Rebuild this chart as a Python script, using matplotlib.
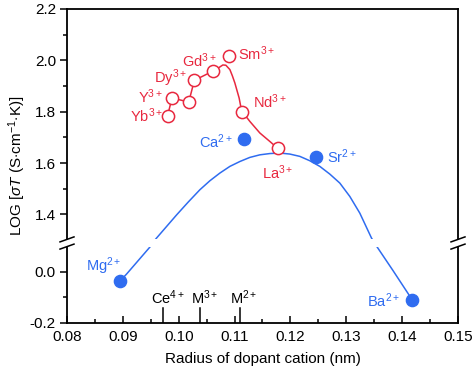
import numpy as np
import matplotlib
matplotlib.use("Agg")
from matplotlib import pyplot as plt
from matplotlib.patches import Rectangle
from matplotlib.lines import Line2D

plt.rcParams['font.family'] = ['Liberation Sans', 'DejaVu Sans']
plt.rcParams['mathtext.fontset'] = 'custom'
plt.rcParams['mathtext.rm'] = 'Liberation Sans'
plt.rcParams['mathtext.it'] = 'Liberation Sans:italic'
plt.rcParams['mathtext.bf'] = 'Liberation Sans:bold'

RED = '#e8283f'
BLUE = '#2f6cf0'

# trivalent dopants (open circles)
red_names = ['Yb', 'Y', '', 'Dy', 'Gd', 'Sm', 'Nd', 'La']
red_x = [0.0980, 0.0988, 0.1018, 0.1028, 0.1062, 0.1090, 0.1114, 0.1178]
red_y = [1.784, 1.853, 1.838, 1.922, 1.959, 2.018, 1.799, 1.658]

# red guide line
red_line_x = [0.0980, 0.0988, 0.1018, 0.1028, 0.1062, 0.10707, 0.10790, 0.10844, 0.10916,
              0.10960, 0.11005, 0.11082, 0.11125, 0.11274, 0.11453, 0.11632, 0.11769]
red_line_y = [1.784, 1.853, 1.838, 1.922, 1.959, 1.970, 1.982, 1.981, 1.964,
              1.940, 1.912, 1.853, 1.804, 1.762, 1.717, 1.684, 1.658]

# divalent dopants (filled circles)
blue_names = ['Mg', 'Ca', 'Sr', 'Ba']
blue_x = [0.0894, 0.1117, 0.1245, 0.1418]
blue_y = [-0.037, 1.693, 1.623, -0.109]

# blue fitted curve
blue_line_x = [0.08948, 0.09068, 0.09485, 0.09592, 0.09962, 0.10170, 0.10379, 0.10558,
               0.10737, 0.10916, 0.11095, 0.11274, 0.11453, 0.11632, 0.11810, 0.11989,
               0.12168, 0.12347, 0.12526, 0.12705, 0.12884, 0.13063, 0.13242, 0.13451,
               0.13540, 0.13837, 0.14166]
blue_line_y = [-0.037, -0.009, 0.096, 1.305, 1.398, 1.448, 1.496, 1.531,
               1.561, 1.587, 1.606, 1.622, 1.632, 1.637, 1.639, 1.635,
               1.626, 1.609, 1.587, 1.557, 1.522, 1.470, 1.405, 1.308,
               0.100, 0.004, -0.105]

# reference radii marks
ref_names = ['Ce$^{4+}$', 'M$^{3+}$', 'M$^{2+}$']
ref_x = [0.0972, 0.1039, 0.1109]

# broken y axis
lo, hi, eps = 0.108, 1.287, 0.002

def fwd(y):
    y = np.asarray(y, dtype=float)
    return np.where(y <= lo, y, np.where(y >= hi, y - (hi - lo) + eps,
                                         lo + (y - lo) * eps / (hi - lo)))

def inv(d):
    d = np.asarray(d, dtype=float)
    return np.where(d <= lo, d, np.where(d >= lo + eps, d + (hi - lo) - eps,
                                         lo + (d - lo) * (hi - lo) / eps))

fig = plt.figure(figsize=(4.74, 3.71), dpi=100)
ax = fig.add_axes([67 / 474, 1 - 323 / 371, 391 / 474, 314 / 371])
ax.set_yscale('function', functions=(fwd, inv))

ax.plot(red_line_x, red_line_y, color=RED, lw=1.1, zorder=2)
ax.plot(red_x, red_y, 'o', ms=8.8, mfc='white', mec=RED, mew=1.1, zorder=3)

ax.plot(blue_line_x, blue_line_y, color=BLUE, lw=1.1, zorder=2)
ax.plot(blue_x, blue_y, 'o', ms=8.8, color=BLUE, zorder=3)

# labels
fs = 10.5
def lab(x, y, s, col, ha):
    ax.text(x, y, s, color=col, fontsize=fs, ha=ha, va='center')

lab(0.09717, 1.784, 'Yb$^{3+}$', RED, 'right')
lab(0.09717, 1.858, 'Y$^{3+}$', RED, 'right')
lab(0.10147, 1.929, 'Dy$^{3+}$', RED, 'right')
lab(0.10683, 1.999, 'Gd$^{3+}$', RED, 'right')
lab(0.11059, 2.026, 'Sm$^{3+}$', RED, 'left')
lab(0.11327, 1.839, 'Nd$^{3+}$', RED, 'left')
lab(0.11775, 1.562, 'La$^{3+}$', RED, 'center')
lab(0.10970, 1.683, 'Ca$^{2+}$', BLUE, 'right')
lab(0.12651, 1.625, 'Sr$^{2+}$', BLUE, 'left')
lab(0.08662, 0.023, 'Mg$^{2+}$', BLUE, 'center')
lab(0.13957, -0.112, 'Ba$^{2+}$', BLUE, 'right')

for name, x in zip(ref_names, ref_x):
    ax.plot([x, x], [-0.2, -0.142], color='black', lw=1.1, zorder=2)
    ax.text(x + 0.0008, -0.137, name, fontsize=fs, ha='center', va='bottom')

ax.set_xlim(0.08, 0.15)
ax.set_ylim(-0.2, 2.2)
ax.set_xticks(np.arange(0.08, 0.1501, 0.01))
ax.set_xticks(np.arange(0.085, 0.15, 0.01), minor=True)
ax.set_xticklabels(['%.2f' % v for v in np.arange(0.08, 0.1501, 0.01)])
yt = [-0.2, 0.0, 1.4, 1.6, 1.8, 2.0, 2.2]
ax.set_yticks(yt)
ax.set_yticklabels(['%.1f' % v for v in yt])
ax.set_yticks([-0.1, 1.5, 1.7, 1.9, 2.1], minor=True)
ax.yaxis.set_minor_formatter(plt.NullFormatter())
tfs = 11
ax.tick_params(axis='y', which='both', direction='out', labelsize=tfs, pad=3)
ax.tick_params(axis='y', which='major', length=5, width=1.1)
ax.tick_params(axis='y', which='minor', length=3, width=1.1)
ax.tick_params(axis='x', which='both', direction='in', labelsize=tfs, pad=5)
ax.tick_params(axis='x', which='major', length=5, width=1.1)
ax.tick_params(axis='x', which='minor', length=3, width=1.1)
for s in ax.spines.values():
    s.set_linewidth(1.3)

ax.set_xlabel('Radius of dopant cation (nm)', fontsize=tfs, labelpad=6)
ax.set_ylabel(r'LOG [$\sigma T$ (S$\cdot$cm$^{-1}$$\cdot$K)]', fontsize=tfs, labelpad=1)

# break gap and marks
c = (323 - 243) / 314
gh = 3.6 / 314
ax.add_patch(Rectangle((-0.02, c - gh), 1.04, 2 * gh, transform=ax.transAxes,
                       facecolor='white', edgecolor='none', zorder=5, clip_on=False))
dx = 7 / 391
dy = 2.5 / 314
for x0 in (0.0, 1.0):
    for off in (-gh, gh):
        ax.add_line(Line2D([x0 - dx, x0 + dx], [c + off - dy, c + off + dy],
                           transform=ax.transAxes, color='black', lw=1.1,
                           zorder=6, clip_on=False))

fig.savefig('out.png', dpi=100)
